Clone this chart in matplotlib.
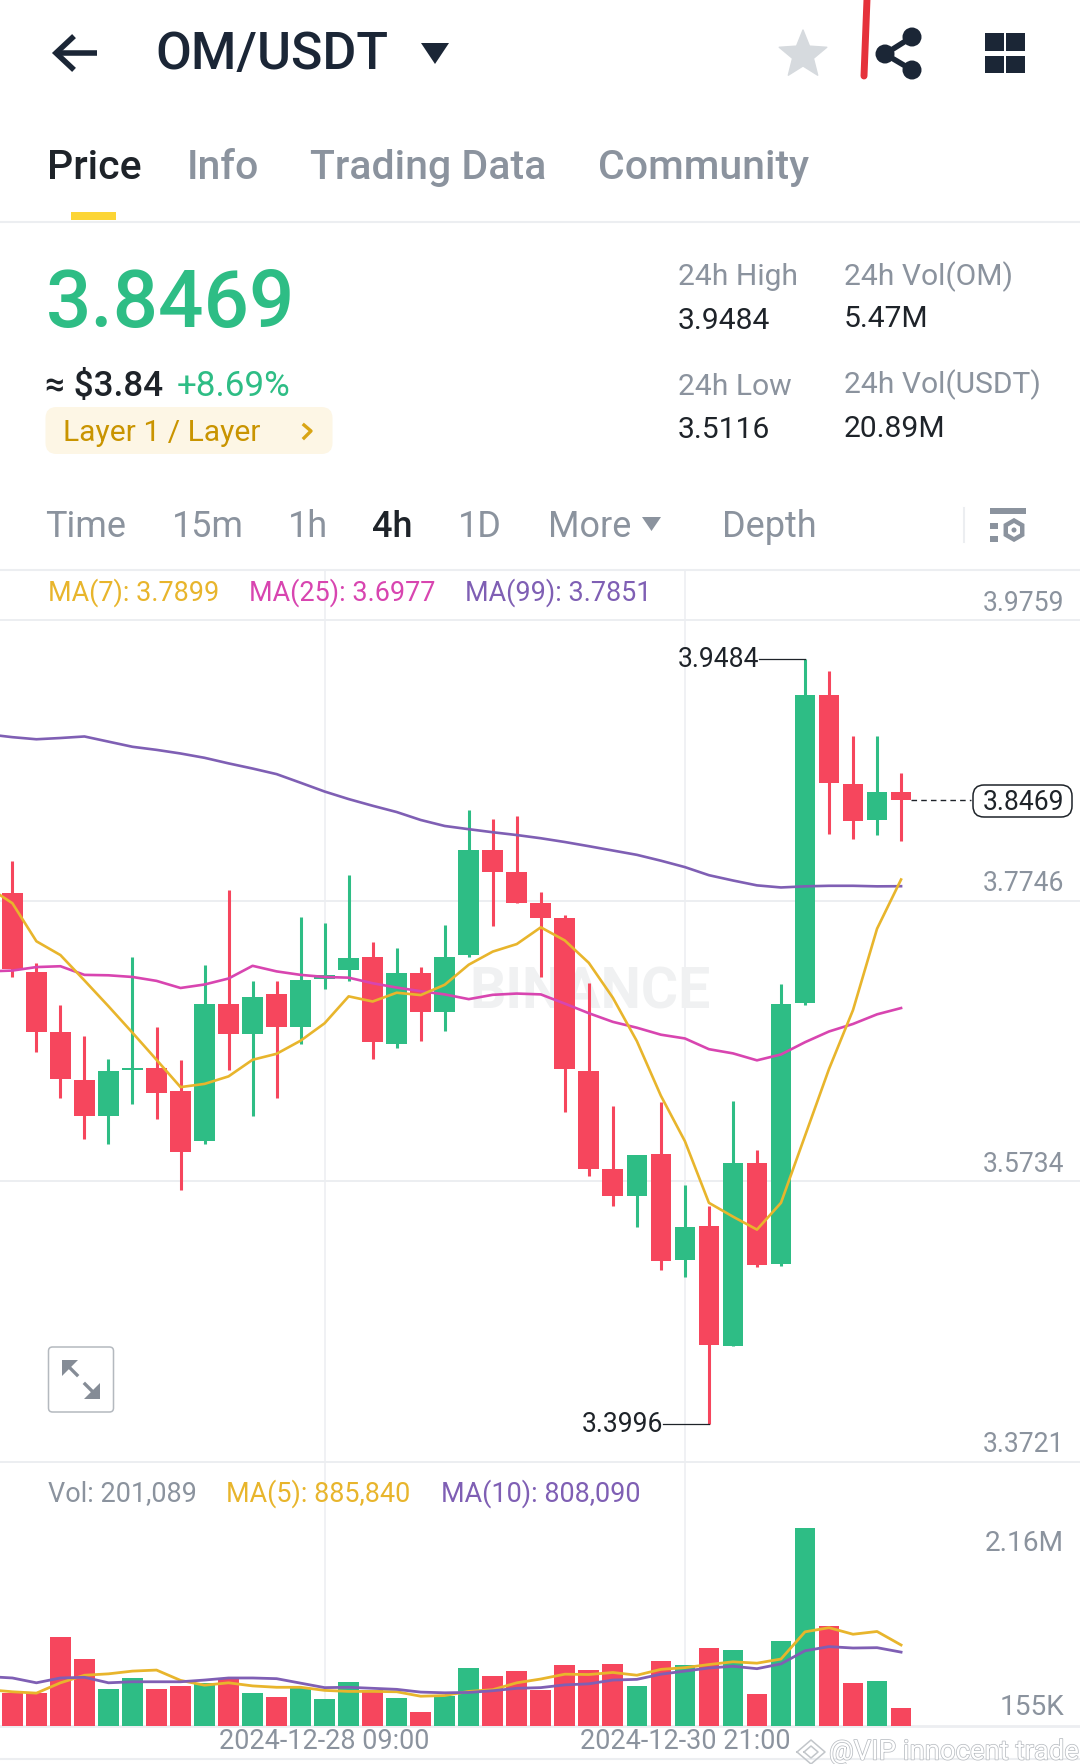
import matplotlib
matplotlib.use('Agg')
import matplotlib.pyplot as plt
import matplotlib.patheffects as pe
from matplotlib.patches import Circle, FancyBboxPatch, Polygon, Rectangle
import numpy as np

plt.rcParams['font.family'] = ['Roboto', 'DejaVu Sans']

# Velas 4h, de izquierda a derecha
opens = [3.7800, 3.7234, 3.6805, 3.6459, 3.6206, 3.6533, 3.6544, 3.6382, 3.6024, 3.7004,
         3.6794, 3.7075, 3.6839, 3.7186, 3.7252, 3.7345, 3.6720, 3.7232, 3.6947, 3.7357,
         3.8113, 3.7953, 3.7727, 3.7623, 3.6529, 3.5822, 3.5630, 3.5930, 3.5170, 3.5415,
         3.4551, 3.5868, 3.5143, 3.7013, 3.9220, 3.8583, 3.8326, 3.8525]
closes = [3.7260, 3.6803, 3.6467, 3.6206, 3.6527, 3.6550, 3.6365, 3.5947, 3.7004, 3.6794,
          3.7055, 3.6839, 3.7178, 3.7215, 3.7337, 3.6737, 3.7232, 3.6947, 3.7342, 3.8113,
          3.7953, 3.7732, 3.7623, 3.6540, 3.5822, 3.5630, 3.5926, 3.5162, 3.5408, 3.4559,
          3.5868, 3.5131, 3.7005, 3.9220, 3.8591, 3.8322, 3.8525, 3.8469]
highs = [3.8033, 3.7297, 3.6996, 3.6774, 3.6615, 3.7340, 3.6839, 3.6606, 3.7288, 3.7826,
         3.7172, 3.7172, 3.7629, 3.7587, 3.7928, 3.7450, 3.7408, 3.7274, 3.7570, 3.8400,
         3.8331, 3.8351, 3.7807, 3.7642, 3.7155, 3.6272, 3.5926, 3.6302, 3.5707, 3.5557,
         3.6310, 3.5957, 3.7147, 3.9484, 3.9393, 3.8929, 3.8929, 3.8664]
lows = [3.7203, 3.6660, 3.6334, 3.6041, 3.6004, 3.6291, 3.6183, 3.5671, 3.6004, 3.6535,
        3.6206, 3.6331, 3.6720, 3.7112, 3.7169, 3.6612, 3.6689, 3.6740, 3.6811, 3.7342,
        3.7564, 3.7732, 3.7201, 3.6229, 3.5769, 3.5554, 3.5404, 3.5097, 3.5051, 3.3996,
        3.4551, 3.5123, 3.5127, 3.7001, 3.8226, 3.8191, 3.8218, 3.8176]

# Medias moviles, la primera es la vela anterior al borde izquierdo
ma7 = [3.7843, 3.7729, 3.7456, 3.7357, 3.7175, 3.6990, 3.6800, 3.6606, 3.6410, 3.6433,
       3.6487, 3.6606, 3.6649, 3.6743, 3.6868, 3.7061, 3.7024, 3.7087, 3.7070, 3.7144,
       3.7288, 3.7382, 3.7436, 3.7556, 3.7462, 3.7301, 3.7051, 3.6740, 3.6348, 3.6022,
       3.5580, 3.5481, 3.5388, 3.5580, 3.6060, 3.6540, 3.6963, 3.7546, 3.7899]
ma25 = [3.7240, 3.7246, 3.7271, 3.7277, 3.7215, 3.7212, 3.7200, 3.7172, 3.7121, 3.7146,
        3.7189, 3.7280, 3.7240, 3.7215, 3.7200, 3.7195, 3.7155, 3.7124, 3.7098, 3.7075,
        3.7041, 3.7072, 3.7081, 3.7075, 3.7009, 3.6940, 3.6878, 3.6836, 3.6786, 3.6759,
        3.6682, 3.6652, 3.6602, 3.6644, 3.6732, 3.6809, 3.6863, 3.6932, 3.6977]
ma99 = [3.8940, 3.8920, 3.8905, 3.8914, 3.8925, 3.8888, 3.8851, 3.8829, 3.8803, 3.8772,
        3.8732, 3.8695, 3.8655, 3.8593, 3.8530, 3.8476, 3.8428, 3.8383, 3.8326, 3.8283,
        3.8260, 3.8238, 3.8218, 3.8195, 3.8168, 3.8138, 3.8107, 3.8076, 3.8034, 3.7988,
        3.7930, 3.7892, 3.7857, 3.7842, 3.7850, 3.7854, 3.7854, 3.7850, 3.7851]

volumes = [360700, 360700, 969300, 732600, 402000, 526000, 409500, 439600, 473400, 526000,
           356900, 315600, 417000, 300600, 480900, 390700, 308100, 150300, 330600, 638700,
           544800, 597400, 390700, 668700, 612400, 676300, 435800, 710100, 668700, 856600,
           826500, 349400, 931700, 2160000, 1089500, 465900, 495900, 201089]
vol_ma5 = [398200, 375700, 360700, 473400, 556000, 571100, 601100, 612400, 499700, 447100,
           473400, 439600, 424500, 424500, 390700, 379500, 379500, 375700, 326900, 334400,
           379500, 398200, 473400, 514700, 567300, 563600, 586100, 556000, 619900, 638700,
           672500, 702600, 687500, 732600, 1029400, 1074500, 1003100, 1033200, 885840]
vol_ma10 = [541000, 526000, 473400, 526000, 533500, 473400, 484700, 484700, 484700, 503400,
            526000, 526000, 518500, 469600, 420800, 424500, 413300, 402000, 371900, 364400,
            368200, 387000, 413300, 420800, 450800, 462100, 503400, 511000, 567300, 601100,
            634900, 653700, 627400, 680000, 822800, 867900, 852800, 856600, 808090]

price_ticks = [3.9759, 3.7746, 3.5734, 3.3721]
price_labels = ['3.9759', '3.7746', '3.5734', '3.3721']
date_ticks = [13, 28]
date_labels = ['2024-12-28 09:00', '2024-12-30 21:00']

RED = '#f6465d'
GREEN = '#2ebd85'
DARK = '#1e2329'
GREY = '#8b939e'
LINE = '#eceef1'
YELLOW = '#e8b52c'
PINK = '#d845b0'
PURPLE = '#7f5fb4'

W, H = 1080, 1765


def px(size):
    # tamano de fuente en pixeles a puntos (dpi 100)
    return size * 0.72


fig = plt.figure(figsize=(W / 100, H / 100), dpi=100, facecolor='white')

ax = fig.add_axes([0, 1 - 1463 / H, 1, (1463 - 621.2) / H])
ax_vol = fig.add_axes([0, 1 - 1727.2 / H, 1, (1727.2 - 1463) / H])
ui = fig.add_axes([0, 0, 1, 1], zorder=5)
ui.set_xlim(0, W)
ui.set_ylim(H, 0)
ui.axis('off')
ui.patch.set_alpha(0)

x = np.arange(len(opens))
x_ma = np.arange(-1, len(opens))
colors = [GREEN if c >= o else RED for o, c in zip(opens, closes)]

# Panel de precio
ax.set_xlim(-0.516, 44.45)
ax.set_ylim(3.3721, 3.9759)
ax.axis('off')
for t in price_ticks:
    ax.axhline(t, color=LINE, lw=1.4, zorder=1, clip_on=False)
for t in date_ticks:
    ax.vlines(t, 3.3721, 4.0118, color=LINE, lw=1.1, zorder=1, clip_on=False)

ax.text(590, 993, 'BINANCE', transform=ui.transData, ha='center', va='center',
        fontsize=px(57), fontweight='bold', color='#f0f1f2', zorder=1.5)

ax.vlines(x, lows, highs, colors=colors, lw=2.2, zorder=2)
ax.bar(x, np.abs(np.array(closes) - np.array(opens)), 0.862,
       bottom=np.minimum(opens, closes), color=colors, zorder=3)
ax.plot(x_ma, ma99, color=PURPLE, lw=1.9, zorder=4)
ax.plot(x_ma, ma25, color=PINK, lw=1.9, zorder=4)
ax.plot(x_ma, ma7, color=YELLOW, lw=1.9, zorder=4)

# Etiquetas de los ejes
for t, lab in zip(price_ticks, price_labels):
    ax.annotate(lab, xy=(1, t), xycoords=('axes fraction', 'data'), xytext=(-11.5, 13),
                textcoords='offset points', ha='right', va='center',
                fontsize=px(26.5), color=GREY, annotation_clip=False, zorder=6)

# Maximo y minimo
i_high = int(np.argmax(highs))
i_low = int(np.argmin(lows))
ax.plot([i_high - 1.9, i_high], [highs[i_high]] * 2, color=DARK, lw=0.9, zorder=4)
ax.text(i_high - 1.92, highs[i_high], '3.9484', ha='right', va='center',
        fontsize=px(26.5), color=DARK, zorder=6)
ax.plot([i_low - 1.9, i_low], [lows[i_low]] * 2, color=DARK, lw=0.9, zorder=4)
ax.text(i_low - 1.92, lows[i_low], '3.3996', ha='right', va='center',
        fontsize=px(26.5), color=DARK, zorder=6)

# Precio actual
ax.plot([37.4, 39.9], [closes[-1]] * 2, color=DARK, lw=1, ls=(0, (4, 3)), zorder=4)
ui.add_patch(FancyBboxPatch((973, 786), 99, 32, boxstyle='round,pad=0,rounding_size=11',
                            fc='white', ec=DARK, lw=1.1, mutation_aspect=1))
ui.add_patch(Rectangle((967, 780), 0, 0, fc='none', ec='none'))
ui.text(1064, 802, '3.8469', ha='right', va='center', fontsize=px(26.5), color=DARK)

# Panel de volumen
ax_vol.set_xlim(-0.516, 44.45)
ax_vol.set_ylim(0, 2882000)
ax_vol.axis('off')
ax_vol.axhline(0, color=LINE, lw=2, zorder=1, clip_on=False)
ax_vol.axhline(2882000, color=LINE, lw=1.4, zorder=1, clip_on=False)
for t in date_ticks:
    ax_vol.axvline(t, color=LINE, lw=1.1, zorder=1)
ax_vol.bar(x, volumes, 0.862, color=colors, zorder=2)
ax_vol.plot(x_ma, vol_ma5, color=YELLOW, lw=2, zorder=3)
ax_vol.plot(x_ma, vol_ma10, color=PURPLE, lw=2, zorder=3)
for t, lab in zip(date_ticks, date_labels):
    ax_vol.annotate(lab, xy=(t, 0), xytext=(0, -10.5), textcoords='offset points',
                    ha='center', va='center', fontsize=px(27), color=GREY,
                    annotation_clip=False, zorder=6)

ui.text(1064, 1544, '2.16M', ha='right', va='center', fontsize=px(28), color=GREY)
ui.text(1064, 1708, '155K', ha='right', va='center', fontsize=px(28), color=GREY)

# Cabecera
ui.text(155, 55, 'OM/USDT', ha='left', va='center', fontsize=px(52), fontweight=500, color='#1b2636')
ui.add_patch(Polygon([(421, 44), (449, 44), (435, 65)], fc='#1b2636', ec='none'))
ui.plot([56, 97], [54, 54], color='#1b2636', lw=4, solid_capstyle='butt')
ui.plot([72, 56, 72], [39, 54, 69], color='#1b2636', lw=4, solid_joinstyle='miter')

star_a = np.deg2rad(np.arange(0, 360, 36) - 90)
star_r = np.where(np.arange(10) % 2 == 0, 25, 11)
ui.add_patch(Polygon(np.c_[803 + star_r * np.cos(star_a), 56 + star_r * np.sin(star_a)],
                     fc='#d6dade', ec='#d6dade', lw=1, joinstyle='round'))
ui.plot([867, 864], [0, 77], color='#e5323b', lw=5, solid_capstyle='round')
ui.plot([912, 885, 912], [38, 55, 71], color='#1b2636', lw=4)
for cx, cy in [(912, 38), (885, 55), (912, 71)]:
    ui.add_patch(Circle((cx, cy), 9.5, fc='#1b2636', ec='none'))
for rx, ry, rw, rh in [(985, 34, 19, 18), (1006, 34, 19, 18), (985, 57, 19, 17), (1006, 57, 19, 17)]:
    ui.add_patch(Rectangle((rx, ry), rw, rh, fc='#1b2636', ec='none'))

# Pestanas
for tx, lab, col in [(47, 'Price', DARK), (187, 'Info', GREY), (310, 'Trading Data', GREY),
                     (598, 'Community', GREY)]:
    ui.text(tx, 168, lab, ha='left', va='center', fontsize=px(41), fontweight=500, color=col)
ui.add_patch(Rectangle((71, 213), 45, 8, fc='#fcd535', ec='none'))
ui.plot([0, W], [223, 223], color=LINE, lw=1.5)

# Resumen de precio
ui.text(46, 305, '3.8469', ha='left', va='center', fontsize=px(80), fontweight=500, color=GREEN)
ui.text(45, 386, '≈ $3.84', ha='left', va='center', fontsize=px(35), fontweight=500, color=DARK)
ui.text(177, 386, '+8.69%', ha='left', va='center', fontsize=px(35), color=GREEN)
ui.add_patch(FancyBboxPatch((45.5, 408), 287, 47, boxstyle='round,pad=0,rounding_size=11',
                            fc='#fdf6e5', ec='none'))
ui.text(63, 433, 'Layer 1 / Layer', ha='left', va='center', fontsize=px(30), color='#c99400')
ui.plot([304, 311, 304], [426, 432, 439], color='#d9a514', lw=2.4)

for tx, ty, lab, col in [(678, 277, '24h High', GREY), (678, 321, '3.9484', DARK),
                         (678, 387, '24h Low', GREY), (678, 430, '3.5116', DARK),
                         (844, 277, '24h Vol(OM)', GREY), (844, 319, '5.47M', DARK),
                         (844, 385, '24h Vol(USDT)', GREY), (844, 429, '20.89M', DARK)]:
    ui.text(tx, ty, lab, ha='left', va='center', fontsize=px(30), color=col)

# Intervalos
for tx, lab, col in [(45, 'Time', GREY), (172, '15m', GREY), (288, '1h', GREY), (372, '4h', DARK),
                     (458, '1D', GREY), (548, 'More', GREY), (722, 'Depth', GREY)]:
    ui.text(tx, 527, lab, ha='left', va='center', fontsize=px(36),
            fontweight=500 if lab == '4h' else 400, color=col)
ui.add_patch(Polygon([(642, 518), (661, 518), (651.5, 532)], fc=GREY, ec='none'))
ui.plot([964, 964], [509, 543], color=LINE, lw=1.5)
ui.add_patch(Rectangle((990, 509), 36, 6, fc=GREY, ec='none'))
ui.add_patch(Rectangle((990, 524), 8, 6, fc=GREY, ec='none'))
ui.add_patch(Rectangle((990, 537), 8, 6, fc=GREY, ec='none'))
hex_a = np.deg2rad(np.arange(30, 390, 60))
ui.add_patch(Polygon(np.c_[1014 + 9.5 * np.cos(hex_a), 531 + 9.5 * np.sin(hex_a)],
                     fc='white', ec=GREY, lw=3.2))
ui.add_patch(Circle((1014, 531), 2.5, fc=GREY, ec='none'))
ui.plot([0, W], [571, 571], color=LINE, lw=1.5)

# Leyendas
for tx, lab, col in [(48, 'MA(7): 3.7899', YELLOW), (249, 'MA(25): 3.6977', PINK),
                     (465, 'MA(99): 3.7851', PURPLE)]:
    ui.text(tx, 593, lab, ha='left', va='center', fontsize=px(27), color=col)
for tx, lab, col in [(48, 'Vol: 201,089', GREY), (226, 'MA(5): 885,840', YELLOW),
                     (441, 'MA(10): 808,090', PURPLE)]:
    ui.text(tx, 1494, lab, ha='left', va='center', fontsize=px(27), color=col)

# Boton de expandir
ui.add_patch(FancyBboxPatch((48.5, 1348), 65, 65, boxstyle='round,pad=0,rounding_size=4',
                            fc='white', ec='#b4b9bf', lw=1.1))
ui.add_patch(Polygon([(62, 1361), (78, 1361), (62, 1377)], fc='#858c96', ec='none'))
ui.add_patch(Polygon([(100, 1400), (84, 1400), (100, 1384)], fc='#858c96', ec='none'))
ui.plot([66, 77], [1365, 1376], color='#858c96', lw=2.4)
ui.plot([96, 85], [1396, 1385], color='#858c96', lw=2.4)

# Marca de agua inferior
ui.plot([0, W], [1760, 1760], color=LINE, lw=1.5)
ui.text(829, 1753, '@VIP innocent trader', ha='left', va='center', fontsize=px(27.5), color='white',
        path_effects=[pe.withStroke(linewidth=1.1, foreground='#b9bdc2')])
ui.plot([797, 811, 825, 811, 797], [1753, 1741, 1753, 1765, 1753], color='#c2c6ca', lw=1.1)
ui.plot([804, 811, 818, 811, 804], [1753, 1747, 1753, 1759, 1753], color='#c2c6ca', lw=1.1)

fig.savefig('out.png', dpi=100, facecolor='white')
